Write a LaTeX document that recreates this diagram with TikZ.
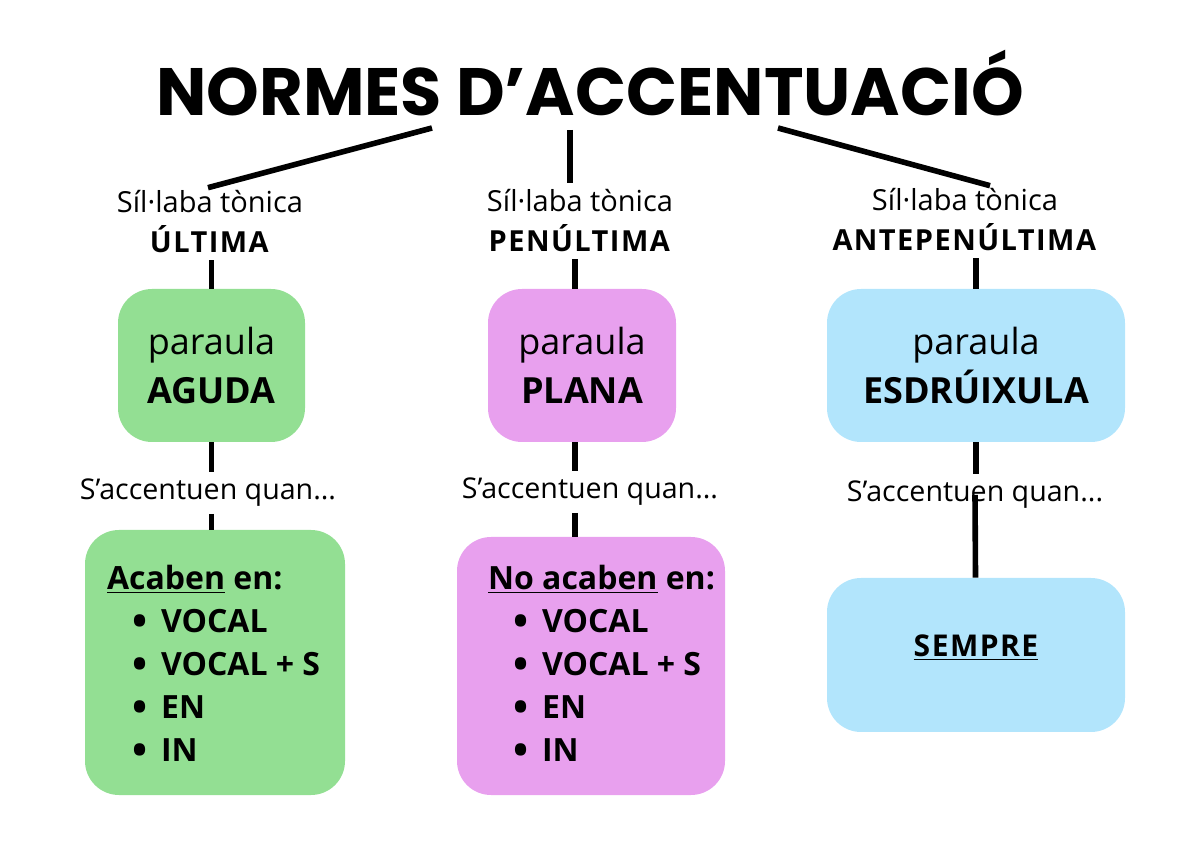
\documentclass[tikz,border=0pt]{standalone}
\usepackage{fontspec}
\setmainfont{Open Sans}
\newfontfamily\titlefont{Poppins}
\usetikzlibrary{calc}
\definecolor{verd}{HTML}{93DF93}
\definecolor{rosa}{HTML}{E8A0EE}
\definecolor{blau}{HTML}{B2E5FC}
\tikzset{
  paraula/.style={rounded corners=17pt, minimum height=76.5pt, align=center,
    font=\fontsize{18}{24.5}\selectfont},
  norma/.style={rounded corners=17pt},
  silaba/.style={align=center, font=\fontsize{14.5}{20}\selectfont},
  quan/.style={font=\fontsize{14.3}{17}\selectfont},
  llista/.style={align=left, anchor=north west, font=\fontsize{16}{21.5}\selectfont\bfseries},
  lin/.style={line width=2.8pt},
}
\newcommand{\espaiat}[1]{{\addfontfeature{LetterSpace=5}#1}}
\newcommand{\punt}{\hspace*{12.5pt}\raisebox{-1.6pt}{\scalebox{1.25}{•}}\hspace{7pt}}

\begin{document}
\begin{tikzpicture}[x=0.5pt, y=-0.5pt]
  \useasboundingbox (0,0) rectangle (1200,849);
  \node (title) at (590,83) {\titlefont\bfseries\fontsize{33.5}{33.5}\selectfont NORMES D’ACCENTUACIÓ};
  % sillaba tonica
  \node[silaba] (sil1) at (210,222) {Síl·laba tònica\\\textbf{\espaiat{ÚLTIMA}}};
  \node[silaba] (sil2) at (580,221) {Síl·laba tònica\\\textbf{\espaiat{PENÚLTIMA}}};
  \node[silaba] (sil3) at (965,220) {Síl·laba tònica\\\textbf{\espaiat{ANTEPENÚLTIMA}}};
  % paraules
  \node[paraula, fill=verd, minimum width=93.5pt] (agu) at (211.5,365.5) {paraula\\\textbf{AGUDA}};
  \node[paraula, fill=rosa, minimum width=94pt] (pla) at (582,365.5) {paraula\\\textbf{PLANA}};
  \node[paraula, fill=blau, minimum width=149pt] (esd) at (976,365.5) {paraula\\\textbf{ESDRÚIXULA}};
  \node[quan] (q1) at (208,493) {S’accentuen quan...};
  \node[quan] (q2) at (590,492) {S’accentuen quan...};
  \node[quan] (q3) at (975,495) {S’accentuen quan...};
  % normes
  \node[norma, fill=verd, minimum width=130pt, minimum height=132.5pt] (r1) at (215,662.5) {};
  \node[norma, fill=rosa, minimum width=134pt, minimum height=129pt] (r2) at (591,666) {};
  \node[norma, fill=blau, minimum width=149pt, minimum height=77pt] (r3) at (976,655) {};
  \node[llista] (l1) at (100,558) {\underline{Acaben} en:\\\punt VOCAL\\\punt VOCAL + S\\\punt EN\\\punt IN};
  \node[llista] (l2) at (481,558) {\underline{No acaben} en:\\\punt VOCAL\\\punt VOCAL + S\\\punt EN\\\punt IN};
  \node[font=\fontsize{15}{18}\selectfont\bfseries] (l3) at (976,648) {\underline{\espaiat{SEMPRE}}};
  % connectors
  \coordinate (t1) at (432,128);
  \coordinate (t2) at (570,130);
  \coordinate (t3) at (778,128);
  \draw[lin] (t1) -- ($(sil1.north)+(-2,4)$);
  \draw[lin] (t2) -- (t2 |- sil2.north);
  \draw[lin] (t3) -- ($(sil3.north)+(25,4)$);
  \draw[lin] (sil1.south -| agu.north) -- (agu.north);
  \draw[lin] (sil2.south -| 575,0) -- (pla.north -| 575,0);
  \draw[lin] (sil3.south -| esd.north) -- (esd.north);
  \draw[lin] (agu.south) -- (agu.south |- q1.north);
  \draw[lin] (pla.south -| 575,0) -- (q2.north -| 575,0);
  \draw[lin] (esd.south) -- (esd.south |- q3.north);
  \draw[lin] (q1.south -| agu.south) -- (r1.north -| agu.south);
  \draw[lin] (q2.south -| 575,0) -- (r2.north -| 575,0);
  \draw[lin] (q3.center) -- (r3);
\end{tikzpicture}
\end{document}
